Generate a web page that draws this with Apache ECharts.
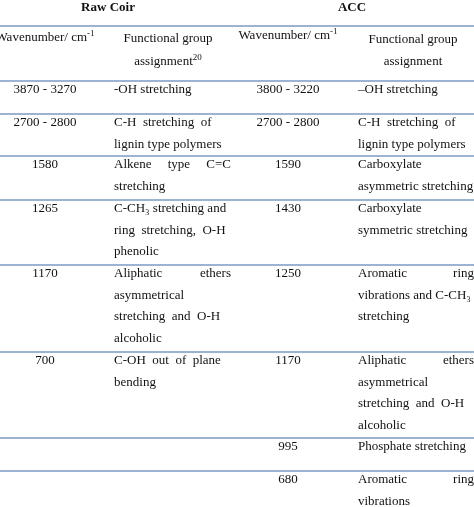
<!DOCTYPE html>
<html>
<head>
<meta charset="utf-8">
<script src="https://cdn.jsdelivr.net/npm/echarts@6/dist/echarts.min.js"></script>
<style>html,body{margin:0;padding:0;background:#fff}#main{width:474px;height:507px}</style>
</head>
<body>
<div id="main"></div>
<script>
// 表格数据
const groupTitles = ['Raw Coir', 'ACC'];
const rawWave = ['3870 - 3270', '2700 - 2800', '1580', '1265', '1170', '700', '', ''];
const rawAssign = [
    ['-OH stretching'],
    ['C-H  stretching  of', 'lignin type polymers'],
    ['Alkene type C=C', 'stretching'],
    ['C-CH₃ stretching and', 'ring  stretching,  O-H', 'phenolic'],
    ['Aliphatic ethers', 'asymmetrical', 'stretching  and  O-H', 'alcoholic'],
    ['C-OH  out  of  plane', 'bending'],
    [],
    []
];
const accWave = ['3800 - 3220', '2700 - 2800', '1590', '1430', '1250', '1170', '995', '680'];
const accAssign = [
    ['–OH stretching'],
    ['C-H  stretching  of', 'lignin type polymers'],
    ['Carboxylate', 'asymmetric stretching'],
    ['Carboxylate', 'symmetric stretching'],
    ['Aromatic ring', 'vibrations and C-CH₃', 'stretching'],
    ['Aliphatic ethers', 'asymmetrical', 'stretching  and  O-H', 'alcoholic'],
    ['Phosphate stretching'],
    ['Aromatic ring', 'vibrations']
];
// 两端对齐的行
const justified = { 'Alkene type C=C': 1, 'Aliphatic ethers': 1, 'Aromatic ring': 1 };

const FONT = '"Liberation Serif", "Times New Roman", serif';
const FS = 13;
const LH = 21.5;
const lineYs = [26, 81, 114, 156, 200, 265, 352, 438, 471];
const wCenters = [45, 288];
const aLeft = [114, 358];
const aRight = [231, 474];

const ctx = document.createElement('canvas').getContext('2d');
ctx.font = FS + 'px ' + FONT;

const elements = [];

function text(x, y, s, align, extra) {
    elements.push({
        type: 'text', x: x, y: y,
        style: Object.assign({ text: s, font: FS + 'px ' + FONT, fill: '#111', align: align || 'left', verticalAlign: 'middle' }, extra || {})
    });
}

// 标题
groupTitles.forEach((t, i) => {
    text([108, 352][i], 8, t, 'center', { font: 'bold ' + FS + 'px ' + FONT });
});

// 表头
const supRich = { s: { fontSize: 9, verticalAlign: 'top', padding: [0, 0, 8, 0], fontFamily: FONT, fill: '#111' } };
elements.push({ type: 'text', x: 45, y: 38, style: { text: 'Wavenumber/ cm{s|-1}', rich: supRich, fontSize: FS, fontFamily: FONT, fill: '#111', align: 'center', verticalAlign: 'middle' } });
elements.push({ type: 'text', x: 288, y: 36, style: { text: 'Wavenumber/ cm{s|-1}', rich: supRich, fontSize: FS, fontFamily: FONT, fill: '#111', align: 'center', verticalAlign: 'middle' } });
text(168, 39, 'Functional group', 'center');
elements.push({ type: 'text', x: 168, y: 62, style: { text: 'assignment{s|20}', rich: supRich, fontSize: FS, fontFamily: FONT, fill: '#111', align: 'center', verticalAlign: 'middle' } });
text(413, 40, 'Functional group', 'center');
text(413, 62, 'assignment', 'center');

// 单元格
function cellLines(lines, col, top) {
    lines.forEach((ln, k) => {
        const y = top + 9 + k * LH;
        if (justified[ln]) {
            const words = ln.split(' ');
            const widths = words.map(w => ctx.measureText(w).width);
            const total = widths.reduce((a, b) => a + b, 0);
            const gap = (aRight[col] - aLeft[col] - total) / (words.length - 1);
            let x = aLeft[col];
            words.forEach((w, j) => { text(x, y, w); x += widths[j] + gap; });
        } else {
            text(aLeft[col], y, ln);
        }
    });
}

for (let r = 0; r < accWave.length; r++) {
    const top = lineYs[r + 1];
    if (rawWave[r]) text(wCenters[0], top + 9, rawWave[r], 'center');
    cellLines(rawAssign[r], 0, top);
    text(wCenters[1], top + 9, accWave[r], 'center');
    cellLines(accAssign[r], 1, top);
}

// 横线
lineYs.forEach(y => {
    elements.push({ type: 'line', shape: { x1: 0, y1: y, x2: 474, y2: y }, style: { stroke: '#7d9ac6', lineWidth: 1.5 } });
});

const chart = echarts.init(document.getElementById('main'));
chart.setOption({ backgroundColor: '#fff', graphic: { elements: elements } });
</script>
</body>
</html>
